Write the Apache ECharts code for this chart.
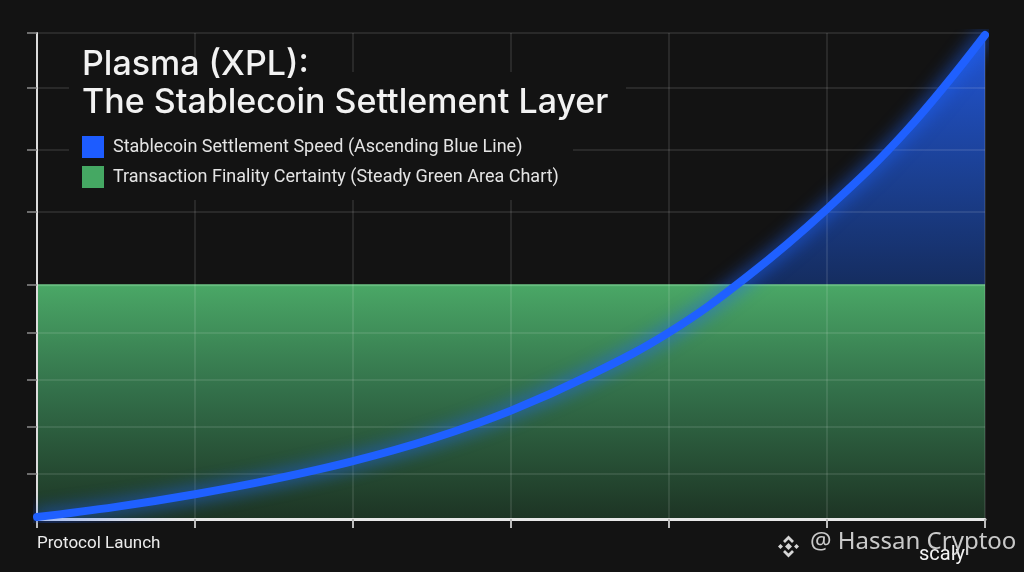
<!DOCTYPE html>
<html>
<head>
<meta charset="utf-8">
<title>Plasma (XPL)</title>
<script src="https://cdn.jsdelivr.net/npm/echarts@6/dist/echarts.min.js"></script>
<style>
    html, body { margin: 0; padding: 0; background: #131313; }
    #main { width: 1024px; height: 572px; }
</style>
</head>
<body>
<div id="main"></div>
<script>
    // periods since launch (x) and values (0-100 scale)
    var periods = [0, 0.5, 1, 1.5, 2, 2.5, 3, 3.5, 4, 4.5, 5, 5.5, 6];
    var speedValues = [0.4, 2.5, 5.1, 8.2, 11.9, 16.5, 22.3, 29.6, 38.4, 50.0, 63.8, 79.8, 99.6];
    var finalityValues = [48.1, 48.1, 48.1, 48.1, 48.1, 48.1, 48.1, 48.1, 48.1, 48.1, 48.1, 48.1, 48.1];
    // grid lines on the y axis are not evenly spaced in the picture
    var yTicks = [9.3, 18.9, 28.6, 38.3, 48.1, 63.2, 75.9, 88.7, 100];
    var xLabels = ["Protocol Launch", "", "", "", "", "", "scaly"];

    var speedName = "Stablecoin Settlement Speed (Ascending Blue Line)";
    var finalityName = "Transaction Finality Certainty (Steady Green Area Chart)";

    function zip(xs, ys) {
        var out = [];
        for (var i = 0; i < xs.length; i++) {
            out.push([xs[i], ys[i]]);
        }
        return out;
    }

    var BLUE = "#1d5cff";
    var GREEN = "#45a863";
    var GRID_LINE = "rgba(255,255,255,0.13)";

    var chart = echarts.init(document.getElementById("main"), null, {renderer: "canvas"});

    var option = {
        backgroundColor: "#131313",
        animation: false,
        title: {
            text: "Plasma (XPL):\nThe Stablecoin Settlement Layer",
            left: 82,
            top: 46,
            padding: 0,
            z: 7,
            textStyle: {
                color: "#f2f2f2",
                fontFamily: "Inter",
                fontWeight: 500,
                fontSize: 34,
                lineHeight: 38
            }
        },
        legend: {
            orient: "vertical",
            left: 82,
            top: 136,
            padding: 0,
            z: 6,
            icon: "rect",
            itemWidth: 22,
            itemHeight: 22,
            itemGap: 8,
            selectedMode: false,
            data: [speedName, finalityName],
            textStyle: {
                color: "#e4e4e4",
                fontFamily: "Roboto",
                fontSize: 18,
                padding: [0, 0, 0, 4]
            }
        },
        grid: {
            left: 37,
            right: 39,
            top: 33,
            bottom: 53,
            outerBoundsMode: "none",
            containLabel: false
        },
        xAxis: {
            type: "value",
            min: 0,
            max: 6,
            interval: 1,
            z: 3,
            axisLine: {lineStyle: {color: "#e8e8e8", width: 3}},
            axisTick: {length: 9, lineStyle: {color: "#bdbdbd", width: 2}},
            axisLabel: {
                color: "#ececec",
                fontFamily: "Roboto",
                fontSize: 17,
                margin: 16,
                alignMinLabel: "left",
                alignMaxLabel: "right",
                formatter: function (v) {
                    var lab = xLabels[Math.round(v)];
                    if (v === 6 && lab) {
                        return "{r|" + lab + "}";
                    }
                    return lab || "";
                },
                rich: {
                    r: {color: "#f4f4f4", fontSize: 20, fontFamily: "Roboto", padding: [10, 20, 0, 0]}
                }
            },
            splitLine: {show: true, lineStyle: {color: GRID_LINE, width: 1.5}}
        },
        yAxis: {
            type: "value",
            min: 0,
            max: 100,
            z: 3,
            axisLine: {show: true, lineStyle: {color: "#dcdcdc", width: 2}},
            axisTick: {show: true, length: 10, customValues: yTicks, lineStyle: {color: "#8c8c8c", width: 1.5}},
            axisLabel: {show: false, customValues: yTicks},
            splitLine: {show: true, lineStyle: {color: GRID_LINE, width: 1.5}}
        },
        graphic: [
            // dark panels behind the title and legend hide the grid there
            {type: "rect", z: 3.5, silent: true, shape: {x: 69, y: 72, width: 557, height: 56}, style: {fill: "#131313"}},
            {type: "rect", z: 3.5, silent: true, shape: {x: 69, y: 126, width: 504, height: 74}, style: {fill: "#131313"}},
            // binance style mark
            {type: "group", left: 778, top: 535, z: 8, children: [
                {type: "polygon", shape: {points: [[11, 7.5], [14.5, 11], [11, 14.5], [7.5, 11]]}, style: {fill: "#d6d6d6"}},
                {type: "polygon", shape: {points: [[3, 8.5], [5.5, 11], [3, 13.5], [0.5, 11]]}, style: {fill: "#d6d6d6"}},
                {type: "polygon", shape: {points: [[19, 8.5], [21.5, 11], [19, 13.5], [16.5, 11]]}, style: {fill: "#d6d6d6"}},
                {type: "polyline", shape: {points: [[6.5, 6.5], [11, 2], [15.5, 6.5]]}, style: {stroke: "#d6d6d6", lineWidth: 2.8, fill: null}},
                {type: "polyline", shape: {points: [[6.5, 15.5], [11, 20], [15.5, 15.5]]}, style: {stroke: "#d6d6d6", lineWidth: 2.8, fill: null}}
            ]},
            {type: "text", left: 810, top: 530, z: 8, style: {
                text: "@ Hassan Cryptoo",
                fill: "rgba(222,222,222,0.9)",
                font: "24px 'Noto Sans'"
            }}
        ],
        series: [
            {
                // area under the speed curve, kept below the green area
                name: speedName,
                type: "line",
                smooth: 0.4,
                showSymbol: false,
                z: 1,
                color: BLUE,
                itemStyle: {color: BLUE},
                lineStyle: {width: 0},
                areaStyle: {
                    opacity: 1,
                    color: new echarts.graphic.LinearGradient(0, 0, 0, 1, [
                        {offset: 0, color: "#2256d6"},
                        {offset: 0.3, color: "#1b3f90"},
                        {offset: 0.55, color: "#142a58"},
                        {offset: 1, color: "#10203f"}
                    ])
                },
                data: zip(periods, speedValues)
            },
            {
                name: finalityName,
                type: "line",
                showSymbol: false,
                z: 2,
                color: GREEN,
                itemStyle: {color: GREEN},
                lineStyle: {color: "#58b873", width: 2},
                areaStyle: {
                    opacity: 1,
                    color: new echarts.graphic.LinearGradient(0, 0, 0, 1, [
                        {offset: 0, color: "#4aa766"},
                        {offset: 0.45, color: "#33704a"},
                        {offset: 1, color: "#1d3424"}
                    ])
                },
                data: zip(periods, finalityValues)
            },
            {
                name: speedName,
                type: "line",
                smooth: 0.4,
                showSymbol: false,
                z: 5,
                color: BLUE,
                itemStyle: {color: BLUE},
                lineStyle: {
                    color: "#1f60ff",
                    width: 8,
                    cap: "round",
                    shadowBlur: 18,
                    shadowColor: "rgba(30,100,255,0.95)"
                },
                data: zip(periods, speedValues)
            }
        ]
    };

    chart.setOption(option);
</script>
</body>
</html>
